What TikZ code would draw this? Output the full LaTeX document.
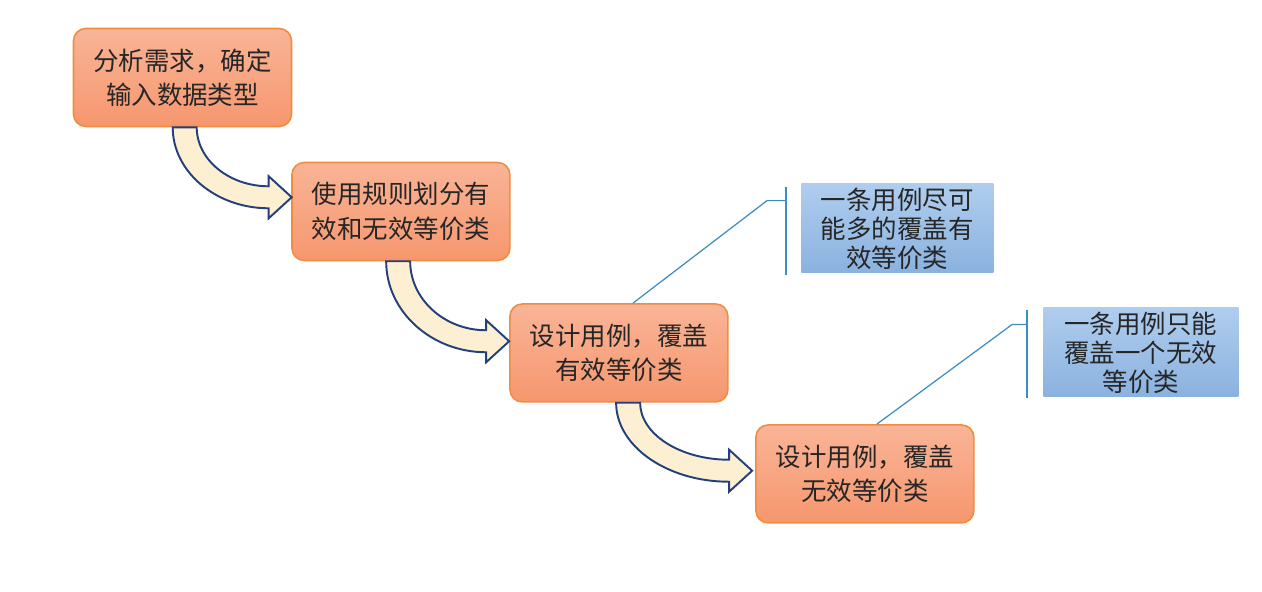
\documentclass[tikz,border=0pt]{standalone}
\usepackage{fontspec}
\newfontfamily\cjk{Noto Sans CJK SC}
\usepackage{xcolor}
\usepackage{tikz}
\usetikzlibrary{positioning}

\definecolor{boxtop}{HTML}{F9B497}
\definecolor{boxbot}{HTML}{F6976E}
\definecolor{boxline}{HTML}{F28C3E}
\definecolor{notetop}{HTML}{AFCDEE}
\definecolor{notebot}{HTML}{8AB2DF}
\definecolor{arrowfill}{HTML}{FDEFD2}
\definecolor{arrowedge}{HTML}{233F7C}
\definecolor{calloutline}{HTML}{3C8DC0}
\definecolor{txt}{HTML}{262626}

\tikzset{
  stepbox/.style={draw=boxline, line width=0.9pt, rounded corners=7pt,
    top color=boxtop, bottom color=boxbot, text=txt, align=center,
    minimum width=4.36cm, minimum height=1.96cm,
    font=\cjk\fontsize{14.5}{19.5}\selectfont},
  notebox/.style={top color=notetop, bottom color=notebot, text=txt, align=center,
    minimum width=3.84cm, minimum height=1.78cm, inner sep=0pt,
    font=\cjk\fontsize{14.5}{16.5}\selectfont},
  arrowline/.style={draw=arrowedge, fill=arrowfill, line width=1.1pt, line join=miter},
  callout/.style={draw=calloutline, line width=0.7pt},
  pics/bendarrow/.style 2 args={code={
    \path[arrowline] (0,0)
      .. controls (0,{0.55*(#2+11)}) and ({0.45*(#1-23)},{#2+11}) .. ({#1-23},{#2+11})
      -- ({#1-23},{#2+21}) -- (#1,#2) -- ({#1-23},{#2-21}) -- ({#1-23},{#2-11})
      .. controls ({#1-23-0.55*(#1-47)},{#2-11}) and (24,{0.55*(#2-11)}) .. (24,0) -- cycle;
  }}
}

\begin{document}
\begin{tikzpicture}[x=0.02cm, y=-0.02cm, on grid]
    \useasboundingbox[fill=white] (0,0) rectangle (1262,592);

    % steps
    \node[stepbox] (b1) at (182.5,77.5) {分析需求，确定\\输入数据类型};
    \node[stepbox] (b2) [below right=2.68cm and 4.37cm of b1] {使用规则划分有\\效和无效等价类};
    \node[stepbox] (b3) [below right=2.83cm and 4.36cm of b2] {设计用例，覆盖\\有效等价类};
    \node[stepbox] (b4) [below right=2.42cm and 4.92cm of b3] {设计用例，覆盖\\无效等价类};

    % notes
    \node[notebox] (n1) [above right=2.49cm and 5.57cm of b3] {一条用例尽可\\能多的覆盖有\\效等价类};
    \node[notebox, minimum width=3.9cm] (n2) [above right=2.43cm and 5.52cm of b4] {一条用例只能\\覆盖一个无效\\等价类};

    % curved arrows
    \pic at ([xshift=2cm]b1.south west) {bendarrow={119}{70}};
    \pic at ([xshift=1.9cm]b2.south west) {bendarrow={123}{80}};
    \pic at ([xshift=2.14cm]b3.south west) {bendarrow={136}{68}};

    % callouts
    \coordinate (k1) at ([xshift=-0.3cm, yshift=-0.34cm]n1.north west);
    \coordinate (k2) at ([xshift=-0.32cm, yshift=-0.34cm]n2.north west);
    \draw[callout] ([xshift=0.28cm]b3.north) -- ([xshift=-0.38cm]k1) -- (k1);
    \draw[callout] ([xshift=-0.3cm, yshift=-0.06cm]n1.north west) -- ([xshift=-0.3cm, yshift=-0.04cm]n1.south west);
    \draw[callout] ([xshift=0.24cm]b4.north) -- ([xshift=-0.3cm]k2) -- (k2);
    \draw[callout] ([xshift=-0.32cm, yshift=-0.04cm]n2.north west) -- ([xshift=-0.32cm, yshift=-0.02cm]n2.south west);
\end{tikzpicture}
\end{document}
